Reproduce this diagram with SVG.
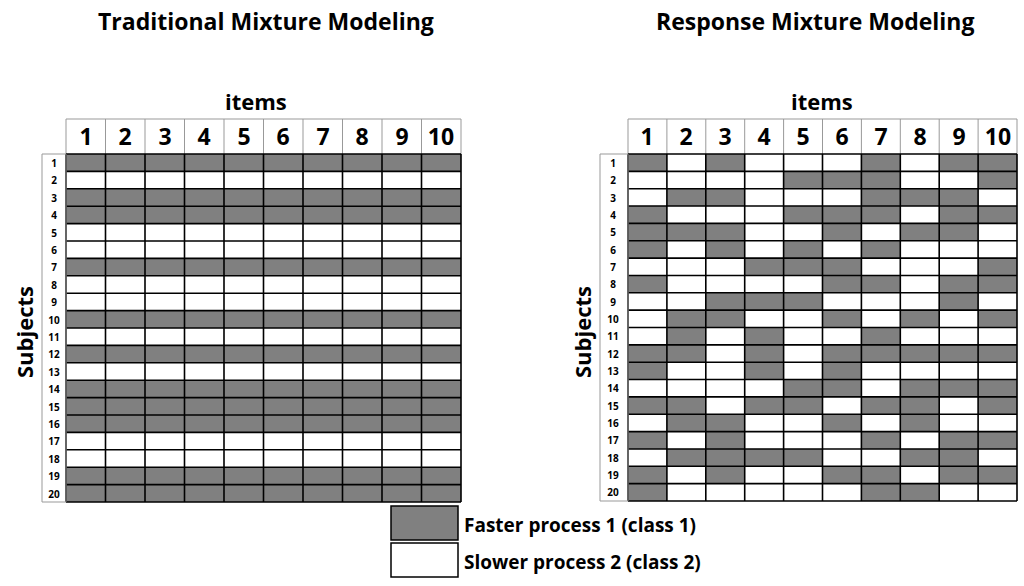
<svg xmlns="http://www.w3.org/2000/svg" width="1024" height="586" viewBox="0 0 1024 586">
<style>
text{font-family:"Open Sans","DejaVu Sans",sans-serif;font-weight:bold;fill:#000}
.t{font-size:23px}
.it{font-size:22px}
.h{font-size:23px;text-anchor:middle}
.r{font-size:10px;text-anchor:middle}
.g rect{fill:#808080}
.ln{fill:none;stroke:#000;stroke-width:1.6;vector-effect:non-scaling-stroke}
.lb{fill:#fff;stroke:#999;stroke-width:1}
</style>
<rect width="1024" height="586" fill="#fff"/>
<text class="t" x="98" y="30">Traditional Mixture Modeling</text>
<text class="t" x="656" y="30">Response Mixture Modeling</text>
<g id="left-grid">
<text class="it" x="225" y="110">items</text>
<text class="it" transform="translate(33,378) rotate(-90)">Subjects</text>
<path d="M66,119H461M66,119V154" stroke="#999" fill="none"/>
<path d="M105.5,119V154M145,119V154M184.5,119V154M224,119V154M263.5,119V154M303,119V154M342.5,119V154M382,119V154M421.5,119V154M461,119V154" stroke="#999" fill="none"/>
<g transform="translate(66,154) scale(39.5,17.4)">
<g class="g"><rect x="0" y="0" width="10" height="1"/><rect x="0" y="2" width="10" height="2"/><rect x="0" y="6" width="10" height="1"/><rect x="0" y="9" width="10" height="1"/><rect x="0" y="11" width="10" height="1"/><rect x="0" y="13" width="10" height="3"/><rect x="0" y="18" width="10" height="2"/></g>
<path class="ln" d="M0,0H10M0,1H10M0,2H10M0,3H10M0,4H10M0,5H10M0,6H10M0,7H10M0,8H10M0,9H10M0,10H10M0,11H10M0,12H10M0,13H10M0,14H10M0,15H10M0,16H10M0,17H10M0,18H10M0,19H10M0,20H10M0,0V20M1,0V20M2,0V20M3,0V20M4,0V20M5,0V20M6,0V20M7,0V20M8,0V20M9,0V20M10,0V20"/>
</g>
<path d="M42,154H66V502H42Z" fill="none" stroke="#999"/>
<g class="h"><text x="86" y="145" class="h">1</text><text x="125" y="145" class="h">2</text><text x="165" y="145" class="h">3</text><text x="204" y="145" class="h">4</text><text x="244" y="145" class="h">5</text><text x="283" y="145" class="h">6</text><text x="323" y="145" class="h">7</text><text x="362" y="145" class="h">8</text><text x="402" y="145" class="h">9</text><text x="441" y="145" class="h">10</text></g>
<g><text class="r" x="54" y="167">1</text><text class="r" x="54" y="184">2</text><text class="r" x="54" y="202">3</text><text class="r" x="54" y="219">4</text><text class="r" x="54" y="237">5</text><text class="r" x="54" y="254">6</text><text class="r" x="54" y="271">7</text><text class="r" x="54" y="289">8</text><text class="r" x="54" y="306">9</text><text class="r" x="54" y="324">10</text><text class="r" x="54" y="341">11</text><text class="r" x="54" y="358">12</text><text class="r" x="54" y="376">13</text><text class="r" x="54" y="393">14</text><text class="r" x="54" y="411">15</text><text class="r" x="54" y="428">16</text><text class="r" x="54" y="445">17</text><text class="r" x="54" y="463">18</text><text class="r" x="54" y="480">19</text><text class="r" x="54" y="498">20</text></g>
</g>
<g id="right-grid">
<text class="it" x="791" y="110">items</text>
<text class="it" transform="translate(591,378) rotate(-90)">Subjects</text>
<path d="M628,119H1017M628,119V154M666.9,119V154M705.8,119V154M744.7,119V154M783.6,119V154M822.5,119V154M861.4,119V154M900.3,119V154M939.2,119V154M978.1,119V154M1017,119V154" stroke="#999" fill="none"/>
<g transform="translate(628,154) scale(38.9,17.35)">
<g class="g">
<rect x="0" y="0" width="1" height="1"/><rect x="2" y="0" width="1" height="1"/><rect x="6" y="0" width="1" height="1"/><rect x="8" y="0" width="2" height="1"/>
<rect x="4" y="1" width="3" height="1"/><rect x="9" y="1" width="1" height="1"/>
<rect x="1" y="2" width="2" height="1"/><rect x="6" y="2" width="3" height="1"/>
<rect x="0" y="3" width="1" height="1"/><rect x="4" y="3" width="3" height="1"/><rect x="8" y="3" width="2" height="1"/>
<rect x="0" y="4" width="3" height="1"/><rect x="5" y="4" width="1" height="1"/><rect x="7" y="4" width="2" height="1"/>
<rect x="0" y="5" width="1" height="1"/><rect x="2" y="5" width="1" height="1"/><rect x="4" y="5" width="1" height="1"/><rect x="6" y="5" width="1" height="1"/>
<rect x="3" y="6" width="3" height="1"/><rect x="9" y="6" width="1" height="1"/>
<rect x="0" y="7" width="1" height="1"/><rect x="5" y="7" width="2" height="1"/><rect x="8" y="7" width="2" height="1"/>
<rect x="2" y="8" width="3" height="1"/><rect x="8" y="8" width="1" height="1"/>
<rect x="1" y="9" width="2" height="1"/><rect x="5" y="9" width="1" height="1"/><rect x="7" y="9" width="1" height="1"/><rect x="9" y="9" width="1" height="1"/>
<rect x="1" y="10" width="1" height="1"/><rect x="3" y="10" width="1" height="1"/><rect x="6" y="10" width="1" height="1"/>
<rect x="0" y="11" width="2" height="1"/><rect x="3" y="11" width="1" height="1"/><rect x="5" y="11" width="5" height="1"/>
<rect x="0" y="12" width="1" height="1"/><rect x="3" y="12" width="1" height="1"/><rect x="5" y="12" width="1" height="1"/>
<rect x="4" y="13" width="2" height="1"/><rect x="7" y="13" width="3" height="1"/>
<rect x="0" y="14" width="2" height="1"/><rect x="3" y="14" width="2" height="1"/><rect x="6" y="14" width="2" height="1"/><rect x="9" y="14" width="1" height="1"/>
<rect x="1" y="15" width="2" height="1"/><rect x="5" y="15" width="1" height="1"/><rect x="7" y="15" width="1" height="1"/>
<rect x="0" y="16" width="1" height="1"/><rect x="2" y="16" width="1" height="1"/><rect x="6" y="16" width="1" height="1"/><rect x="8" y="16" width="2" height="1"/>
<rect x="1" y="17" width="4" height="1"/><rect x="7" y="17" width="2" height="1"/>
<rect x="0" y="18" width="1" height="1"/><rect x="2" y="18" width="1" height="1"/><rect x="5" y="18" width="2" height="1"/><rect x="8" y="18" width="2" height="1"/>
<rect x="0" y="19" width="1" height="1"/><rect x="6" y="19" width="2" height="1"/>
</g>
<path class="ln" d="M0,0H10M0,1H10M0,2H10M0,3H10M0,4H10M0,5H10M0,6H10M0,7H10M0,8H10M0,9H10M0,10H10M0,11H10M0,12H10M0,13H10M0,14H10M0,15H10M0,16H10M0,17H10M0,18H10M0,19H10M0,20H10M0,0V20M1,0V20M2,0V20M3,0V20M4,0V20M5,0V20M6,0V20M7,0V20M8,0V20M9,0V20M10,0V20"/>
</g>
<path d="M600,154H628V501H600Z" fill="none" stroke="#999"/>
<g><text x="647" y="145" class="h">1</text><text x="686" y="145" class="h">2</text><text x="725" y="145" class="h">3</text><text x="764" y="145" class="h">4</text><text x="803" y="145" class="h">5</text><text x="842" y="145" class="h">6</text><text x="881" y="145" class="h">7</text><text x="920" y="145" class="h">8</text><text x="959" y="145" class="h">9</text><text x="998" y="145" class="h">10</text></g>
<g><text class="r" x="613" y="167">1</text><text class="r" x="613" y="184">2</text><text class="r" x="613" y="202">3</text><text class="r" x="613" y="219">4</text><text class="r" x="613" y="236">5</text><text class="r" x="613" y="254">6</text><text class="r" x="613" y="271">7</text><text class="r" x="613" y="288">8</text><text class="r" x="613" y="306">9</text><text class="r" x="613" y="323">10</text><text class="r" x="613" y="340">11</text><text class="r" x="613" y="358">12</text><text class="r" x="613" y="375">13</text><text class="r" x="613" y="392">14</text><text class="r" x="613" y="410">15</text><text class="r" x="613" y="427">16</text><text class="r" x="613" y="444">17</text><text class="r" x="613" y="462">18</text><text class="r" x="613" y="479">19</text><text class="r" x="613" y="496">20</text></g>
</g>
<g id="legend">
<rect x="391" y="506" width="67" height="34" fill="#808080" stroke="#000" stroke-width="1.5"/>
<rect x="391" y="543" width="67" height="34" fill="#fff" stroke="#000" stroke-width="1.5"/>
<text x="464" y="532" style="font-size:19px">Faster process 1 (class 1)</text>
<text x="464" y="569" style="font-size:19px">Slower process 2 (class 2)</text>
</g>
</svg>
